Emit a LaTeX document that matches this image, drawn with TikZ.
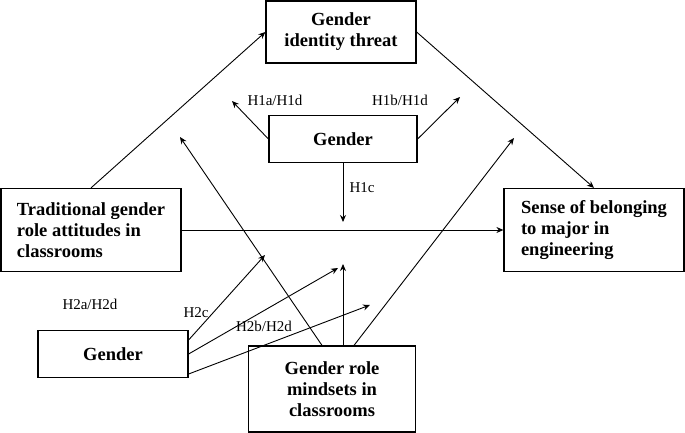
\documentclass[tikz,border=0pt]{standalone}
\usepackage{fontspec}
\setmainfont{Liberation Serif}
\usetikzlibrary{arrows.meta}
\begin{document}
\begin{tikzpicture}[x=1pt,y=-1pt,
  box/.style={draw,line width=1.2pt,align=center,font=\fontsize{18.5}{21}\selectfont\bfseries,inner sep=0pt},
  arr/.style={-{Stealth[length=7pt,width=6pt]},line width=0.9pt},
  lab/.style={font=\fontsize{15}{17}\selectfont}]
  \useasboundingbox (0,0) rectangle (685,433);
  % boxes
  \node[box,minimum width=150pt,minimum height=62pt] (threat) at (341,32) {Gender\\identity threat};
  \node[box,minimum width=148pt,minimum height=47pt] (gmid) at (343,139) {Gender};
  \node[box,minimum width=180pt,minimum height=83pt,align=left] (trad) at (91,230) {Traditional gender\\role attitudes in\\classrooms};
  \node[box,minimum width=180pt,minimum height=83pt,align=left] (sense) at (594,230) {Sense of belonging\\to major in\\engineering};
  \node[box,minimum width=150pt,minimum height=47pt] (glow) at (113,354) {Gender};
  \node[box,minimum width=167pt,minimum height=86pt] (mind) at (332,389) {Gender role\\mindsets in\\classrooms};
  % free ends
  \coordinate (t1) at (232,101);
  \coordinate (t2) at (460,97);
  \coordinate (c1) at (343,222);
  \coordinate (m1) at (180,137);
  \coordinate (m2) at (343,264);
  \coordinate (m3) at (514,138);
  \coordinate (l1) at (265,255);
  \coordinate (l2) at (338,268);
  \coordinate (l3) at (370,305);
  % connectors
  \draw[arr] (trad.north) -- (threat.west);
  \draw[arr] (threat.east) -- (sense.north);
  \draw[arr] (trad.east) -- (sense.west);
  \draw[arr] (gmid.west) -- (t1);
  \draw[arr] (gmid.east) -- (t2);
  \draw[arr] (gmid.south) -- (c1);
  \draw[arr] ([xshift=-10pt]mind.north) -- (m1);
  \draw[arr] ([xshift=11pt]mind.north) -- (m2);
  \draw[arr] ([xshift=22pt]mind.north) -- (m3);
  \draw[arr] ([yshift=14pt]glow.east) -- (l1);
  \draw[arr] (glow.east) -- (l2);
  \draw[arr] ([yshift=-20pt]glow.east) -- (l3);
  % labels
  \node[lab] at (275,100) {H1a/H1d};
  \node[lab] at (400,100) {H1b/H1d};
  \node[lab] at (362,188) {H1c};
  \node[lab] at (90,304) {H2a/H2d};
  \node[lab] at (196,313) {H2c};
  \node[lab] at (264,326) {H2b/H2d};
\end{tikzpicture}
\end{document}
